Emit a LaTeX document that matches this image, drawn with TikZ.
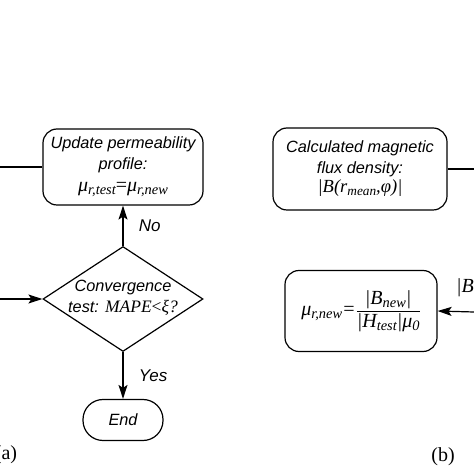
\documentclass[tikz,border=0pt]{standalone}
\usepackage{fontspec}
\setmainfont{Liberation Sans}
\newfontfamily\tms{Liberation Serif}
\usetikzlibrary{shapes.geometric,arrows.meta}
\newcommand{\sbs}[1]{\raisebox{-0.35ex}{\fontsize{0.72\fsz}{0.72\fsz}\selectfont #1}}
\newdimen\fsz
\newcommand{\mth}[2][17.5pt]{\mbox{\fsz=#1\relax\tms\itshape\fontsize{\fsz}{1.1\fsz}\selectfont #2}}
\begin{document}
\begin{tikzpicture}[x=1pt,y=1pt,
  every node/.style={font=\fontsize{16.3}{21}\selectfont\itshape},
  procbox/.style={draw, line width=1.2pt, rounded corners=14pt, align=center, inner sep=0pt},
  decbox/.style={draw, line width=1.2pt, diamond, inner sep=0pt},
  termbox/.style={draw, line width=1.2pt, rounded corners=20pt, inner sep=0pt, minimum width=80pt, minimum height=41pt},
  conn/.style={line width=1.2pt},
  arr/.style={line width=1.2pt, -{Stealth[length=14pt,width=9pt,inset=3pt]}},
  lbl/.style={font=\fontsize{17}{18}\selectfont\itshape},
  panel/.style={font=\tms\fontsize{20}{22}\selectfont}]
\useasboundingbox (0,0) rectangle (474,474);
% panel (a)
\node[procbox, minimum width=160pt, minimum height=76pt] (upd) at (123,307)
  {Update permeability\\ profile:\\[1pt] \mth[20pt]{μ\sbs{r,test}{\upshape=}μ\sbs{r,new}}};
\node[decbox, minimum width=160pt, minimum height=105pt] (conv) at (123,175) {};
\node[align=center] (convt) at (123,176) {Convergence\\ test: \mth{MAPE{\upshape<}ξ?}};
\node[termbox] (end) at (123,54) {End};
\coordinate (la) at (0,307);
\coordinate (lb) at (0,175);
\draw[conn] (la) -- (upd.west);
\draw[arr] (conv.north) -- node[lbl, right=12pt] (no) {No} (upd.south);
\draw[arr] (lb) -- (conv.west);
\draw[arr] (conv.south) -- node[lbl, right=12pt] (yes) {Yes} (end.north);
\node[panel] (pa) at (6,19) {(a)};
% panel (b)
\node[procbox, minimum width=174pt, minimum height=82pt] (calc) at (360,305)
  {Calculated magnetic\\ flux density:\\[-2pt] \mth[18.5pt]{|B(r\sbs{mean},φ)|}};
\node[procbox, minimum width=152pt, minimum height=81pt] (mu) at (361,163)
  {$\mth[20pt]{μ\sbs{r,new}}\mbox{\tms\fontsize{20}{22}\selectfont =}\displaystyle\frac{\mth[20pt]{|B\sbs{new}|}}{\mth[20pt]{|H\sbs{test}|μ\sbs{0}}}$};
\coordinate (rc) at (474,305);
\coordinate (rb) at (474,162);
\draw[conn] (calc.east) -- (rc);
\draw[arr] (rb) -- (mu.east);
\node[anchor=west, inner sep=0pt] (bnew) at (456,186) {\mth[20pt]{|B\sbs{new}|}};
\node[panel] (pb) at (443,17) {(b)};
\end{tikzpicture}
\end{document}
